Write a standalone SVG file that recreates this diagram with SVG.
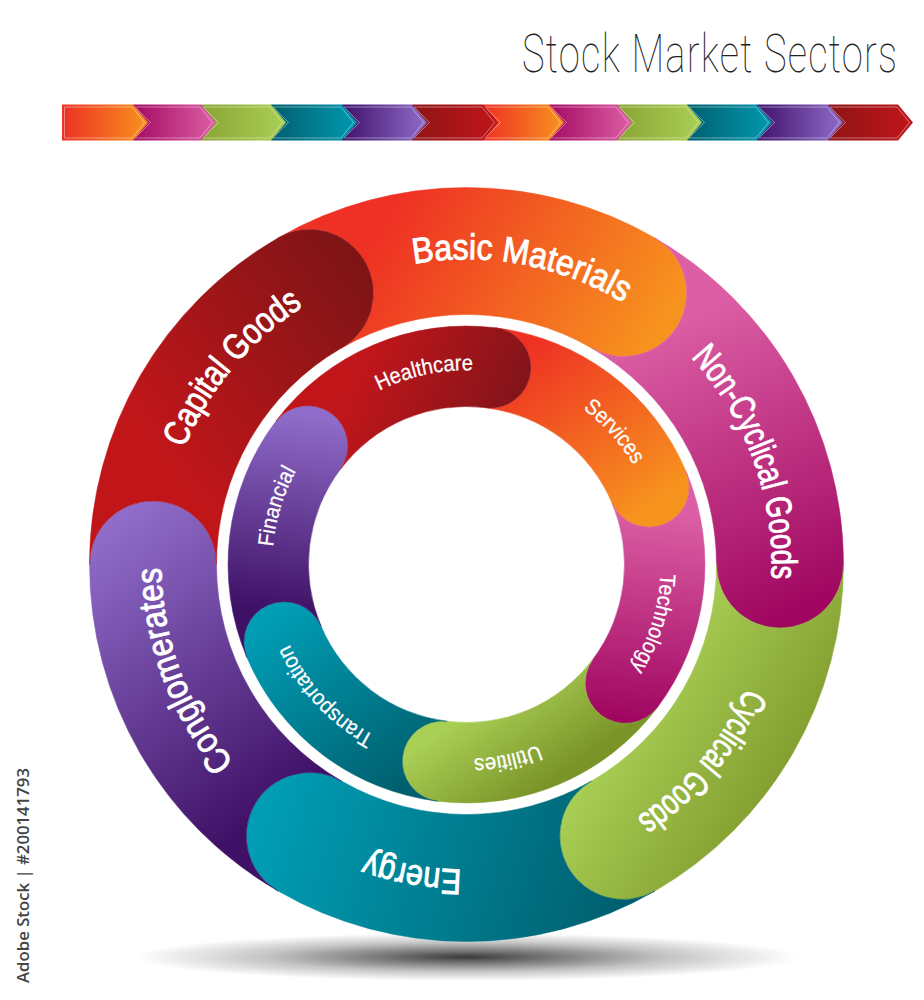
<svg xmlns="http://www.w3.org/2000/svg" width="924" height="1000" viewBox="0 0 924 1000">
<style>
text{font-family:"Liberation Sans",Arial,sans-serif;fill:#fff}
.o{font-size:36px;text-anchor:middle;stroke:#fff;stroke-width:.9}
.i{font-size:22px;text-anchor:middle;stroke:#fff;stroke-width:.25}
.t{font-family:"Roboto","Inter",sans-serif;font-weight:100;font-size:53px;fill:#222}
.id{font-family:"Open Sans","DejaVu Sans",sans-serif;font-weight:600;font-size:17px;fill:#444}
.h{fill:none;stroke:#fff;stroke-opacity:.45;stroke-width:.9}
</style>
<defs>
<linearGradient id="bO"><stop offset="0" stop-color="#ee3124"/><stop offset="1" stop-color="#f7941e"/></linearGradient>
<linearGradient id="bM"><stop offset="0" stop-color="#a50a63"/><stop offset="1" stop-color="#dc5fa5"/></linearGradient>
<linearGradient id="bG"><stop offset="0" stop-color="#8aa534"/><stop offset="1" stop-color="#a9cf55"/></linearGradient>
<linearGradient id="bT"><stop offset="0" stop-color="#005f6e"/><stop offset="1" stop-color="#0099b1"/></linearGradient>
<linearGradient id="bP"><stop offset="0" stop-color="#40126b"/><stop offset="1" stop-color="#8f6cc9"/></linearGradient>
<linearGradient id="bR"><stop offset="0" stop-color="#8f1416"/><stop offset="1" stop-color="#c0161a"/></linearGradient>
<radialGradient id="sh"><stop offset="0" stop-color="#3a3a3a"/><stop offset=".25" stop-color="#777"/><stop offset=".6" stop-color="#c4c4c4"/><stop offset="1" stop-color="#fff"/></radialGradient>
<linearGradient id="gBasic" gradientUnits="userSpaceOnUse" x1="400" y1="200" x2="650" y2="350"><stop offset="0" stop-color="#ee3124"/><stop offset="1" stop-color="#f7941e"/></linearGradient>
<linearGradient id="gNon" gradientUnits="userSpaceOnUse" x1="670" y1="320" x2="800" y2="610"><stop offset="0" stop-color="#dc5fa5"/><stop offset="1" stop-color="#a00660"/></linearGradient>
<linearGradient id="gCyc" gradientUnits="userSpaceOnUse" x1="610" y1="730" x2="790" y2="840"><stop offset="0" stop-color="#a9cf55"/><stop offset="1" stop-color="#7a9428"/></linearGradient>
<linearGradient id="gEne" gradientUnits="userSpaceOnUse" x1="270" y1="800" x2="620" y2="910"><stop offset="0" stop-color="#009db5"/><stop offset="1" stop-color="#005f6e"/></linearGradient>
<linearGradient id="gCon" gradientUnits="userSpaceOnUse" x1="110" y1="530" x2="300" y2="790"><stop offset="0" stop-color="#8f6cc9"/><stop offset="1" stop-color="#3f1166"/></linearGradient>
<linearGradient id="gCap" gradientUnits="userSpaceOnUse" x1="150" y1="430" x2="360" y2="270"><stop offset="0" stop-color="#c0161a"/><stop offset="1" stop-color="#7f1416"/></linearGradient>
<linearGradient id="gHea" gradientUnits="userSpaceOnUse" x1="370" y1="350" x2="510" y2="410"><stop offset="0" stop-color="#c0161a"/><stop offset="1" stop-color="#84141a"/></linearGradient>
<linearGradient id="gSer" gradientUnits="userSpaceOnUse" x1="530" y1="345" x2="650" y2="510"><stop offset="0" stop-color="#ee3124"/><stop offset="1" stop-color="#f7941e"/></linearGradient>
<linearGradient id="gTec" gradientUnits="userSpaceOnUse" x1="650" y1="510" x2="630" y2="720"><stop offset="0" stop-color="#dc5fa5"/><stop offset="1" stop-color="#a00660"/></linearGradient>
<linearGradient id="gUti" gradientUnits="userSpaceOnUse" x1="450" y1="725" x2="510" y2="810"><stop offset="0" stop-color="#a9cf55"/><stop offset="1" stop-color="#7a9428"/></linearGradient>
<linearGradient id="gTra" gradientUnits="userSpaceOnUse" x1="270" y1="620" x2="400" y2="790"><stop offset="0" stop-color="#009db5"/><stop offset="1" stop-color="#005f6e"/></linearGradient>
<linearGradient id="gFin" gradientUnits="userSpaceOnUse" x1="300" y1="415" x2="275" y2="610"><stop offset="0" stop-color="#8f6cc9"/><stop offset="1" stop-color="#3f1166"/></linearGradient>
<path id="po" d="M166.1,511.5A305,305 0 0 1 766.9,511.5"/>
<path id="pi" d="M275.4,530.8A194,194 0 0 1 657.6,530.8"/>
</defs>

<text class="t" transform="translate(522,72) scale(.72,1)" textLength="521" lengthAdjust="spacing">Stock Market Sectors</text>
<text class="id" transform="translate(29,983) rotate(-90)" textLength="215" lengthAdjust="spacingAndGlyphs">Adobe Stock | #200141793</text>

<g id="arrow-bar">
<polygon fill="url(#bR)" points="828,104.5 898,104.5 913,122.5 898,140.5 828,140.5"/><polygon class="h" points="830,107 897,107 909.5,122.5 897,138 830,138 845.5,122.5"/>
<polygon fill="url(#bP)" points="757,104.5 828,104.5 843,122.5 828,140.5 757,140.5"/><polygon class="h" points="759,107 827,107 839.5,122.5 827,138 759,138 774.5,122.5"/>
<polygon fill="url(#bT)" points="687,104.5 757,104.5 772,122.5 757,140.5 687,140.5"/><polygon class="h" points="689,107 756,107 768.5,122.5 756,138 689,138 704.5,122.5"/>
<polygon fill="url(#bG)" points="617,104.5 687,104.5 702,122.5 687,140.5 617,140.5"/><polygon class="h" points="619,107 686,107 698.5,122.5 686,138 619,138 634.5,122.5"/>
<polygon fill="url(#bM)" points="549,104.5 617,104.5 632,122.5 617,140.5 549,140.5"/><polygon class="h" points="551,107 616,107 628.5,122.5 616,138 551,138 566.5,122.5"/>
<polygon fill="url(#bO)" points="483,104.5 549,104.5 564,122.5 549,140.5 483,140.5"/><polygon class="h" points="485,107 548,107 560.5,122.5 548,138 485,138 500.5,122.5"/>
<polygon fill="url(#bR)" points="412,104.5 483,104.5 498,122.5 483,140.5 412,140.5"/><polygon class="h" points="414,107 482,107 494.5,122.5 482,138 414,138 429.5,122.5"/>
<polygon fill="url(#bP)" points="342,104.5 412,104.5 427,122.5 412,140.5 342,140.5"/><polygon class="h" points="344,107 411,107 423.5,122.5 411,138 344,138 359.5,122.5"/>
<polygon fill="url(#bT)" points="271,104.5 342,104.5 357,122.5 342,140.5 271,140.5"/><polygon class="h" points="273,107 341,107 353.5,122.5 341,138 273,138 288.5,122.5"/>
<polygon fill="url(#bG)" points="201,104.5 271,104.5 286,122.5 271,140.5 201,140.5"/><polygon class="h" points="203,107 270,107 282.5,122.5 270,138 203,138 218.5,122.5"/>
<polygon fill="url(#bM)" points="133,104.5 201,104.5 216,122.5 201,140.5 133,140.5"/><polygon class="h" points="135,107 200,107 212.5,122.5 200,138 135,138 150.5,122.5"/>
<polygon fill="url(#bO)" points="62,104.5 133,104.5 148,122.5 133,140.5 62,140.5"/><polygon class="h" points="64.5,107 132,107 144.5,122.5 132,138 64.5,138"/>
</g>

<ellipse id="shadow" cx="466" cy="957" rx="332" ry="24" fill="url(#sh)"/>

<g id="basic-materials"><path fill="url(#gBasic)" stroke="url(#gBasic)" stroke-width=".5" d="M278,238A377,377 0 0 1 655,238A63.5,63.5 0 0 1 591.5,348A250,250 0 0 0 341.5,348A63.5,63.5 0 0 0 278,238Z"/>
<text class="o" transform="rotate(10.5 466.5 564.5)"><textPath href="#po" startOffset="50%" textLength="218" lengthAdjust="spacingAndGlyphs">Basic Materials</textPath></text></g>
<g id="non-cyclical-goods"><path fill="url(#gNon)" stroke="url(#gNon)" stroke-width=".5" d="M655,238A377,377 0 0 1 843.5,564.5A63.5,63.5 0 0 1 716.5,564.5A250,250 0 0 0 591.5,348A63.5,63.5 0 0 0 655,238Z"/>
<text class="o" transform="rotate(70 466.5 564.5)"><textPath href="#po" startOffset="50%" textLength="242" lengthAdjust="spacingAndGlyphs">Non-Cyclical Goods</textPath></text></g>
<g id="cyclical-goods"><path fill="url(#gCyc)" stroke="url(#gCyc)" stroke-width=".5" d="M843.5,564.5A377,377 0 0 1 655,891A63.5,63.5 0 0 1 591.5,781A250,250 0 0 0 716.5,564.5A63.5,63.5 0 0 0 843.5,564.5Z"/>
<text class="o" transform="rotate(130 466.5 564.5)"><textPath href="#po" startOffset="50%" textLength="172" lengthAdjust="spacingAndGlyphs">Cyclical Goods</textPath></text></g>
<g id="energy"><path fill="url(#gEne)" stroke="url(#gEne)" stroke-width=".5" d="M655,891A377,377 0 0 1 278,891A63.5,63.5 0 0 1 341.5,781A250,250 0 0 0 591.5,781A63.5,63.5 0 0 0 655,891Z"/>
<text class="o" transform="rotate(190 466.5 564.5)"><textPath href="#po" startOffset="50%" textLength="97" lengthAdjust="spacingAndGlyphs">Energy</textPath></text></g>
<g id="conglomerates"><path fill="url(#gCon)" stroke="url(#gCon)" stroke-width=".5" d="M278,891A377,377 0 0 1 89.5,564.5A63.5,63.5 0 0 1 216.5,564.5A250,250 0 0 0 341.5,781A63.5,63.5 0 0 0 278,891Z"/>
<text class="o" transform="rotate(249.5 466.5 564.5)"><textPath href="#po" startOffset="50%" textLength="212" lengthAdjust="spacingAndGlyphs">Conglomerates</textPath></text></g>
<g id="capital-goods"><path fill="url(#gCap)" stroke="url(#gCap)" stroke-width=".5" d="M89.5,564.5A377,377 0 0 1 278,238A63.5,63.5 0 0 1 341.5,348A250,250 0 0 0 216.5,564.5A63.5,63.5 0 0 0 89.5,564.5Z"/>
<text class="o" transform="rotate(310 466.5 564.5)"><textPath href="#po" startOffset="50%" textLength="188" lengthAdjust="spacingAndGlyphs">Capital Goods</textPath></text></g>

<g id="services"><path fill="url(#gSer)" stroke="url(#gSer)" stroke-width=".5" d="M495.6,327.8A238.5,238.5 0 0 1 686,471.3A40.25,40.25 0 0 1 611.9,502.8A158,158 0 0 0 485.8,407.7A40.25,40.25 0 0 0 495.6,327.8Z"/>
<text class="i" transform="rotate(48 466.5 564.5)"><textPath href="#pi" startOffset="50%" textLength="76" lengthAdjust="spacingAndGlyphs">Services</textPath></text></g>
<g id="technology"><path fill="url(#gTec)" stroke="url(#gTec)" stroke-width=".5" d="M686,471.3A238.5,238.5 0 0 1 657,708A40.25,40.25 0 0 1 592.7,659.6A158,158 0 0 0 611.9,502.8A40.25,40.25 0 0 0 686,471.3Z"/>
<text class="i" transform="rotate(107.5 466.5 564.5)"><textPath href="#pi" startOffset="50%" textLength="100" lengthAdjust="spacingAndGlyphs">Technology</textPath></text></g>
<g id="utilities"><path fill="url(#gUti)" stroke="url(#gUti)" stroke-width=".5" d="M657,708A238.5,238.5 0 0 1 437.4,801.2A40.25,40.25 0 0 1 447.2,721.3A158,158 0 0 0 592.7,659.6A40.25,40.25 0 0 0 657,708Z"/>
<text class="i" transform="rotate(168 466.5 564.5)"><textPath href="#pi" startOffset="50%" textLength="67" lengthAdjust="spacingAndGlyphs">Utilities</textPath></text></g>
<g id="transportation"><path fill="url(#gTra)" stroke="url(#gTra)" stroke-width=".5" d="M437.4,801.2A238.5,238.5 0 0 1 247,657.7A40.25,40.25 0 0 1 321.1,626.2A158,158 0 0 0 447.2,721.3A40.25,40.25 0 0 0 437.4,801.2Z"/>
<text class="i" transform="rotate(227 466.5 564.5)"><textPath href="#pi" startOffset="50%" textLength="127" lengthAdjust="spacingAndGlyphs">Transportation</textPath></text></g>
<g id="financial"><path fill="url(#gFin)" stroke="url(#gFin)" stroke-width=".5" d="M247,657.7A238.5,238.5 0 0 1 276,421A40.25,40.25 0 0 1 340.3,469.4A158,158 0 0 0 321.1,626.2A40.25,40.25 0 0 0 247,657.7Z"/>
<text class="i" transform="rotate(287 466.5 564.5)"><textPath href="#pi" startOffset="50%" textLength="80" lengthAdjust="spacingAndGlyphs">Financial</textPath></text></g>
<g id="healthcare"><path fill="url(#gHea)" stroke="url(#gHea)" stroke-width=".5" d="M276,421A238.5,238.5 0 0 1 495.6,327.8A40.25,40.25 0 0 1 485.8,407.7A158,158 0 0 0 340.3,469.4A40.25,40.25 0 0 0 276,421Z"/>
<text class="i" transform="rotate(-12.4 466.5 564.5)"><textPath href="#pi" startOffset="50%" textLength="97" lengthAdjust="spacingAndGlyphs">Healthcare</textPath></text></g>
</svg>
